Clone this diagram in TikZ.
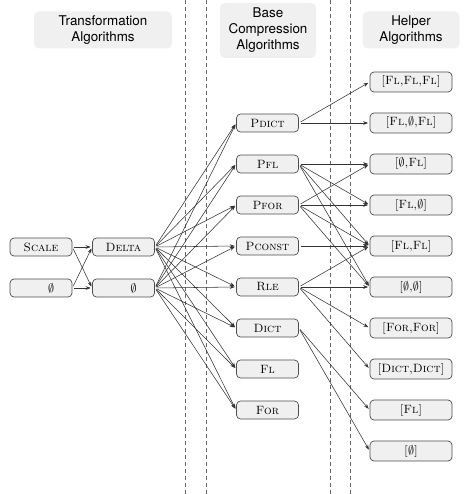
\documentclass[tikz,border=0pt]{standalone}
\usepackage{fontspec}
\setsansfont{TeX Gyre Heros}
\usetikzlibrary{arrows.meta}

\tikzset{
  algo/.style={draw=black!70, fill=black!6, rounded corners=4pt, line width=0.7pt,
    minimum width=62pt, minimum height=18pt, inner sep=0pt,
    font=\fontsize{12}{14}\selectfont\scshape},
  helper/.style={algo, minimum width=82pt, minimum height=20pt},
  header/.style={fill=black!6, rounded corners=5pt, align=center, inner sep=0pt,
    font=\sffamily\fontsize{13.4}{16}\selectfont},
  sep/.style={dashed, black!60, line width=0.7pt, dash pattern=on 4pt off 3pt},
  edge/.style={->, black!80, line width=0.55pt, shorten <=2pt, shorten >=1.5pt}
}

\begin{document}
\begin{tikzpicture}[x=1pt, y=-1pt, >={Stealth[length=5pt,width=3.6pt]}]
  \useasboundingbox (0,0) rectangle (474,494);

  % 1. column separators
  \draw[sep] (185,0) -- (185,494);
  \draw[sep] (206,0) -- (206,494);
  \draw[sep] (330,0) -- (330,494);
  \draw[sep] (350,0) -- (350,494);

  % 2. headers
  \node[header, minimum width=138pt, minimum height=37pt] (htrans) at (103,30) {Transformation\\Algorithms};
  \node[header, minimum width=96pt, minimum height=55pt] (hbase) at (268,30.5) {Base\\Compression\\Algorithms};
  \node[header, minimum width=97pt, minimum height=37pt] (hhelp) at (411,30) {Helper\\Algorithms};

  % 3. transformation algorithms
  \node[algo] (scale) at (41,247) {Scale};
  \node[algo] (nulA) at (41,288) {\hspace*{20pt}$\emptyset$};
  \node[algo] (delta) at (123.5,247) {Delta};
  \node[algo] (nulB) at (123.5,288) {\hspace*{20pt}$\emptyset$};

  % 4. base compression algorithms
  \node[algo] (pdict) at (267.5,123) {Pdict};
  \node[algo] (pfl) at (267.5,164) {Pfl};
  \node[algo] (pfor) at (267.5,205) {Pfor};
  \node[algo] (pconst) at (267.5,246) {Pconst};
  \node[algo] (rle) at (267.5,287) {Rle};
  \node[algo] (dict) at (267.5,328) {Dict};
  \node[algo] (fl) at (267.5,369) {Fl};
  \node[algo] (for) at (267.5,410) {For};

  % 5. helper algorithms
  \node[helper] (flflfl) at (411,82) {[Fl,Fl,Fl]};
  \node[helper] (flnfl) at (411,123) {[Fl,$\emptyset$,Fl]};
  \node[helper] (nfl) at (411,164) {[$\emptyset$,Fl]};
  \node[helper] (fln) at (411,205) {[Fl,$\emptyset$]};
  \node[helper] (flfl) at (411,246) {[Fl,Fl]};
  \node[helper] (nn) at (411,287) {[$\emptyset$,$\emptyset$]};
  \node[helper] (forfor) at (411,328) {[For,For]};
  \node[helper] (dictdict) at (411,369) {[Dict,Dict]};
  \node[helper] (flone) at (411,410) {[Fl]};
  \node[helper] (none) at (411,451) {[$\emptyset$]};

  % 6. connectors
  \draw[edge] (scale.east) -- (delta.west);
  \draw[edge] (scale.east) -- (nulB.west);
  \draw[edge] (nulA.east) -- (delta.west);
  \draw[edge] (nulA.east) -- (nulB.west);
  \foreach \src in {delta, nulB}
    \foreach \dst in {pdict, pfl, pfor, pconst, rle, dict, fl, for}
      \draw[edge] (\src.east) -- (\dst.west);

  \draw[edge] (pdict.east) -- (flflfl.west);
  \draw[edge] (pdict.east) -- (flnfl.west);
  \foreach \src in {pfl, pfor}
    \foreach \dst in {nfl, fln, flfl, nn}
      \draw[edge] (\src.east) -- (\dst.west);
  \draw[edge] (pconst.east) -- (flfl.west);
  \foreach \dst in {flfl, nn, forfor, dictdict}
    \draw[edge] (rle.east) -- (\dst.west);
  \draw[edge] (dict.east) -- (flone.west);
  \draw[edge] (dict.east) -- (none.west);
\end{tikzpicture}
\end{document}
